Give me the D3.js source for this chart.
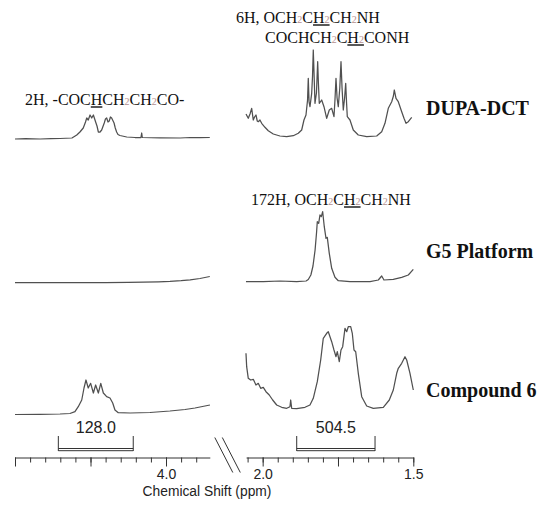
<!DOCTYPE html>
<html><head><meta charset="utf-8">
<script src="https://cdn.jsdelivr.net/npm/d3@7"></script>
<style>body{margin:0;background:#fff}</style>
</head><body>
<svg id="c" width="550" height="508"></svg>
<script>
// ---------- DATA ----------
const samples = ["DUPA-DCT", "G5 Platform", "Compound 6"];

// [ppm, intensity (arb. units)]
const dupaLeft = [[5.000,-1],[4.930,-0.6],[4.834,-1],[4.760,-0.7],[4.702,-0.5],[4.623,0],[4.591,3],[4.570,6],[4.548,10],[4.533,16],[4.525,20],[4.515,18],[4.503,23],[4.492,20],[4.481,23],[4.466,16],[4.457,12],[4.448,6],[4.437,6],[4.426,8],[4.409,15],[4.401,19],[4.393,20],[4.384,16],[4.376,17],[4.368,21],[4.360,20],[4.344,15],[4.336,10],[4.327,6],[4.318,3.5],[4.305,2.5],[4.260,1],[4.205,0.5],[4.166,0.5],[4.161,5],[4.157,0.5],[4.040,0.2],[3.907,0],[3.840,0.5],[3.775,0.3],[3.710,0.5]];
const dupaRight = [[2.0553,24],[2.0478,19.7],[2.0420,24],[2.0365,29.7],[2.0312,18],[2.0270,21],[2.0222,23],[2.0180,17],[2.0146,16.3],[2.0090,18],[2.0033,14.7],[1.9924,10.7],[1.9814,7.3],[1.9648,4],[1.9426,2],[1.9203,1.3],[1.8984,2.3],[1.8818,4.7],[1.8705,8],[1.8629,18],[1.8562,23],[1.8510,38],[1.8486,59.7],[1.8460,36],[1.8430,31.3],[1.8373,44.7],[1.8345,62],[1.8320,88],[1.8290,60],[1.8264,34.7],[1.8215,45],[1.8174,76.3],[1.8150,55],[1.8121,34.7],[1.8041,38],[1.7965,31.3],[1.7875,19.7],[1.7789,28],[1.7709,29.7],[1.7633,21.3],[1.7600,38],[1.7566,59.7],[1.7530,40],[1.7490,31.3],[1.7440,50],[1.7400,76.3],[1.7365,50],[1.7324,28],[1.7280,40],[1.7244,54.7],[1.7215,35],[1.7191,21.3],[1.7102,18],[1.6992,8],[1.6826,3],[1.6547,1.3],[1.6215,2],[1.6049,6.3],[1.5940,14.7],[1.5830,29.7],[1.5717,36.3],[1.5660,42],[1.5631,48],[1.5574,39.7],[1.5498,36.3],[1.5385,26.3],[1.5309,19.7],[1.5242,14.7],[1.5166,16.3],[1.5053,20.7]];

const g5Left = [[5.0,-0.7],[4.80,-0.7],[4.60,-0.6],[4.40,-0.5],[4.25,-0.4],[4.15,-0.2],[4.05,0.2],[3.974,0.6],[3.90,1.3],[3.84,2.2],[3.775,3.5],[3.71,5.5]];
const g5Right = [[2.0554,0.3],[1.998,0.3],[1.9426,1],[1.8871,0.3],[1.8560,1],[1.8486,2.5],[1.8400,7],[1.8330,16],[1.8260,32],[1.8210,50],[1.8187,60.3],[1.8141,58.7],[1.8098,67],[1.8054,65.3],[1.8008,70.3],[1.7955,55.3],[1.7898,43.7],[1.7855,44.7],[1.7789,28.7],[1.7709,13.7],[1.7600,4.7],[1.7490,1.3],[1.7102,0.3],[1.6438,0.3],[1.6162,2],[1.6049,6],[1.5973,2],[1.5664,2.7],[1.5385,4.7],[1.5166,7],[1.5000,12.7]];

const cmpdLeft = [[5.0,-2.5],[4.834,-2.3],[4.702,-2],[4.636,-1.5],[4.603,0.3],[4.581,5.3],[4.558,12],[4.543,24],[4.530,32],[4.515,24],[4.499,28.7],[4.481,19],[4.466,27],[4.448,19],[4.432,28.7],[4.415,19],[4.393,15.3],[4.371,14],[4.353,9],[4.338,2],[4.316,-0.7],[4.238,-1],[4.106,-0.5],[3.974,1],[3.874,2.5],[3.808,4],[3.709,7]];
const cmpdRight = [[2.0554,58.7],[2.0531,45.3],[2.0478,33.7],[2.0398,32],[2.0312,32.7],[2.0222,27],[2.0146,28.7],[2.0066,23.7],[1.9980,24.7],[1.9890,20.3],[1.9781,17],[1.9668,12],[1.9535,7],[1.9369,4.7],[1.9203,3.7],[1.9094,5.3],[1.9070,12],[1.9037,3.7],[1.8871,3.3],[1.8596,4.7],[1.8430,7],[1.8320,13.7],[1.8187,30.3],[1.8074,52],[1.7988,73.7],[1.7875,78.7],[1.7822,80.3],[1.7709,70.3],[1.7633,62],[1.7566,55.3],[1.7523,60.3],[1.7457,50.3],[1.7400,62],[1.7344,65.3],[1.7268,83.7],[1.7211,80.3],[1.7158,85.3],[1.7078,85.3],[1.7025,78.7],[1.6969,62],[1.6912,60.3],[1.6826,38.7],[1.6713,15.3],[1.6547,6],[1.6328,3.7],[1.5996,4.7],[1.5797,12],[1.5664,22],[1.5551,38.7],[1.5498,43.7],[1.5385,48.7],[1.5276,55.3],[1.5219,52],[1.5110,38.7],[1.5000,22]];

const spectraLeft = [dupaLeft, g5Left, cmpdLeft];
const spectraRight = [dupaRight, g5Right, cmpdRight];

// axis ticks (ppm)
const ppmLeft = [5.0, 3.71];
const ppmRight = [2.055, 1.5];
const minorLeft = [5.0,4.9,4.8,4.7,4.6,4.5,4.4,4.3,4.2,4.1,4.0,3.9,3.8];
const majorLeft = [5.0,4.5,4.0];
const minorRight = [2.05,2.0,1.95,1.9,1.85,1.8,1.75,1.7,1.65,1.6,1.55,1.5];
const majorRight = [2.0,1.75,1.5];
const tickLabels = ["4.0","2.0","1.5"];
const axisTitle = "Chemical Shift (ppm)";

// integrals: [from ppm, to ppm, value]
const integralLeft = [4.713, 4.217, "128.0"];
const integralRight = [1.887, 1.627, "504.5"];

// peak annotations: segments [text, subscript?, underline?]
const annotLeft = [["2H, -COC"],["H",0,1],["CH"],["2",1],["CH"],["2",1],["CO-"]];
const annotTop1 = [["6H, OCH"],["2",1],["C"],["H",0,1],["2",1,1],["CH"],["2",1],["NH"]];
const annotTop2 = [["COCHCH"],["2",1],["C"],["H",0,1],["2",1,1],["CONH"]];
const annotMid = [["172H, OCH"],["2",1],["C"],["H",0,1],["2",1,1],["CH"],["2",1],["NH"]];

// ---------- DRAW ----------
const svg = d3.select("#c");
const xL = d3.scaleLinear().domain(ppmLeft).range([15, 209.8]);
const xR = d3.scaleLinear().domain(ppmRight).range([246.1, 413.3]);
const baselines = [138, 282, 412];
const yScales = baselines.map(b => d3.scaleLinear().domain([0, 100]).range([b, b - 100]));

const lineColor = "#505050";
samples.forEach((s, i) => {
  const y = yScales[i];
  [[spectraLeft[i], xL], [spectraRight[i], xR]].forEach(([data, x]) => {
    svg.append("path").datum(data)
      .attr("d", d3.line().x(d => x(d[0])).y(d => y(d[1])))
      .attr("fill", "none").attr("stroke", lineColor)
      .attr("stroke-width", 1.25).attr("stroke-linejoin", "round");
  });
});

// sample names
const nameY = [115, 258, 397];
svg.selectAll("text.name").data(samples).join("text")
  .attr("class", "name")
  .attr("x", 426).attr("y", (d, i) => nameY[i])
  .attr("font-family", "'Liberation Serif','Times New Roman',serif")
  .attr("font-weight", "bold").attr("font-size", 20).attr("fill", "#111")
  .text(d => d);

// annotations
function annot(segs, x, y) {
  const t = svg.append("text").attr("x", x).attr("y", y)
    .attr("font-family", "'Liberation Serif','Times New Roman',serif")
    .attr("font-size", 16).attr("fill", "#111");
  let idx = 0; const ranges = [];
  segs.forEach(([txt, sub, ul]) => {
    const ts = t.append("tspan").text(txt);
    if (sub) ts.attr("font-size", 10).attr("fill", "#b58e8e");
    if (ul) ranges.push([idx, idx + txt.length - 1]);
    idx += txt.length;
  });
  const node = t.node();
  if (ranges.length) {
    const a = node.getExtentOfChar(ranges[0][0]);
    const b = node.getExtentOfChar(ranges[ranges.length - 1][1]);
    svg.append("line").attr("x1", a.x).attr("x2", b.x + b.width)
      .attr("y1", y + 2).attr("y2", y + 2)
      .attr("stroke", "#111").attr("stroke-width", 1.4);
  }
}
annot(annotLeft, 25, 105);
annot(annotTop1, 236, 23);
annot(annotTop2, 265, 43);
annot(annotMid, 251, 205);

// axes
const axisY = 457.5;
function drawAxis(x, minor, major) {
  const g = svg.append("g").attr("transform", `translate(0,${axisY})`);
  g.call(d3.axisBottom(x).tickValues(minor).tickSize(5).tickSizeOuter(0).tickFormat(""));
  const g2 = svg.append("g").attr("transform", `translate(0,${axisY})`);
  g2.call(d3.axisBottom(x).tickValues(major).tickSize(9).tickSizeOuter(0)
    .tickFormat(d => { const s = d.toFixed(1); return tickLabels.includes(s) && Math.abs(d * 10 - Math.round(d * 10)) < 1e-9 ? s : ""; }));
  g2.select(".domain").remove();
  [g, g2].forEach(gg => {
    gg.selectAll("line").attr("stroke", "#333").attr("stroke-width", 1);
    gg.select(".domain").attr("stroke", "#333").attr("stroke-width", 1);
    gg.selectAll("text").attr("font-family", "'Liberation Sans',Arial,sans-serif")
      .attr("font-size", 14).attr("fill", "#222");
  });
}
drawAxis(xL, minorLeft, majorLeft);
drawAxis(xR, minorRight, majorRight);

// axis break marks
const bx0 = xL.range()[1], bx1 = xR.range()[0];
[0, 7.5].forEach(off => {
  svg.append("line")
    .attr("x1", bx0 + 5 + off).attr("y1", axisY - 20)
    .attr("x2", bx0 + 23 + off).attr("y2", axisY + 15)
    .attr("stroke", "#333").attr("stroke-width", 1);
});

svg.append("text").attr("x", 207).attr("y", 496).attr("text-anchor", "middle")
  .attr("font-family", "'Liberation Sans',Arial,sans-serif").attr("font-size", 13.8)
  .attr("fill", "#222").text(axisTitle);

// integrals
[[integralLeft, xL], [integralRight, xR]].forEach(([it, x]) => {
  const a = x(it[0]), b = x(it[1]);
  const g = svg.append("g").attr("stroke", "#333").attr("stroke-width", 1);
  g.append("line").attr("x1", a).attr("x2", a).attr("y1", 436).attr("y2", 451);
  g.append("line").attr("x1", b).attr("x2", b).attr("y1", 436).attr("y2", 451);
  g.append("line").attr("x1", a).attr("x2", b).attr("y1", 448.5).attr("y2", 448.5);
  g.append("line").attr("x1", a).attr("x2", b).attr("y1", 450.7).attr("y2", 450.7);
  svg.append("text").attr("x", (a + b) / 2).attr("y", 433).attr("text-anchor", "middle")
    .attr("font-family", "'Liberation Sans',Arial,sans-serif").attr("font-size", 16)
    .attr("fill", "#222").text(it[2]);
});
</script>
</body></html>
